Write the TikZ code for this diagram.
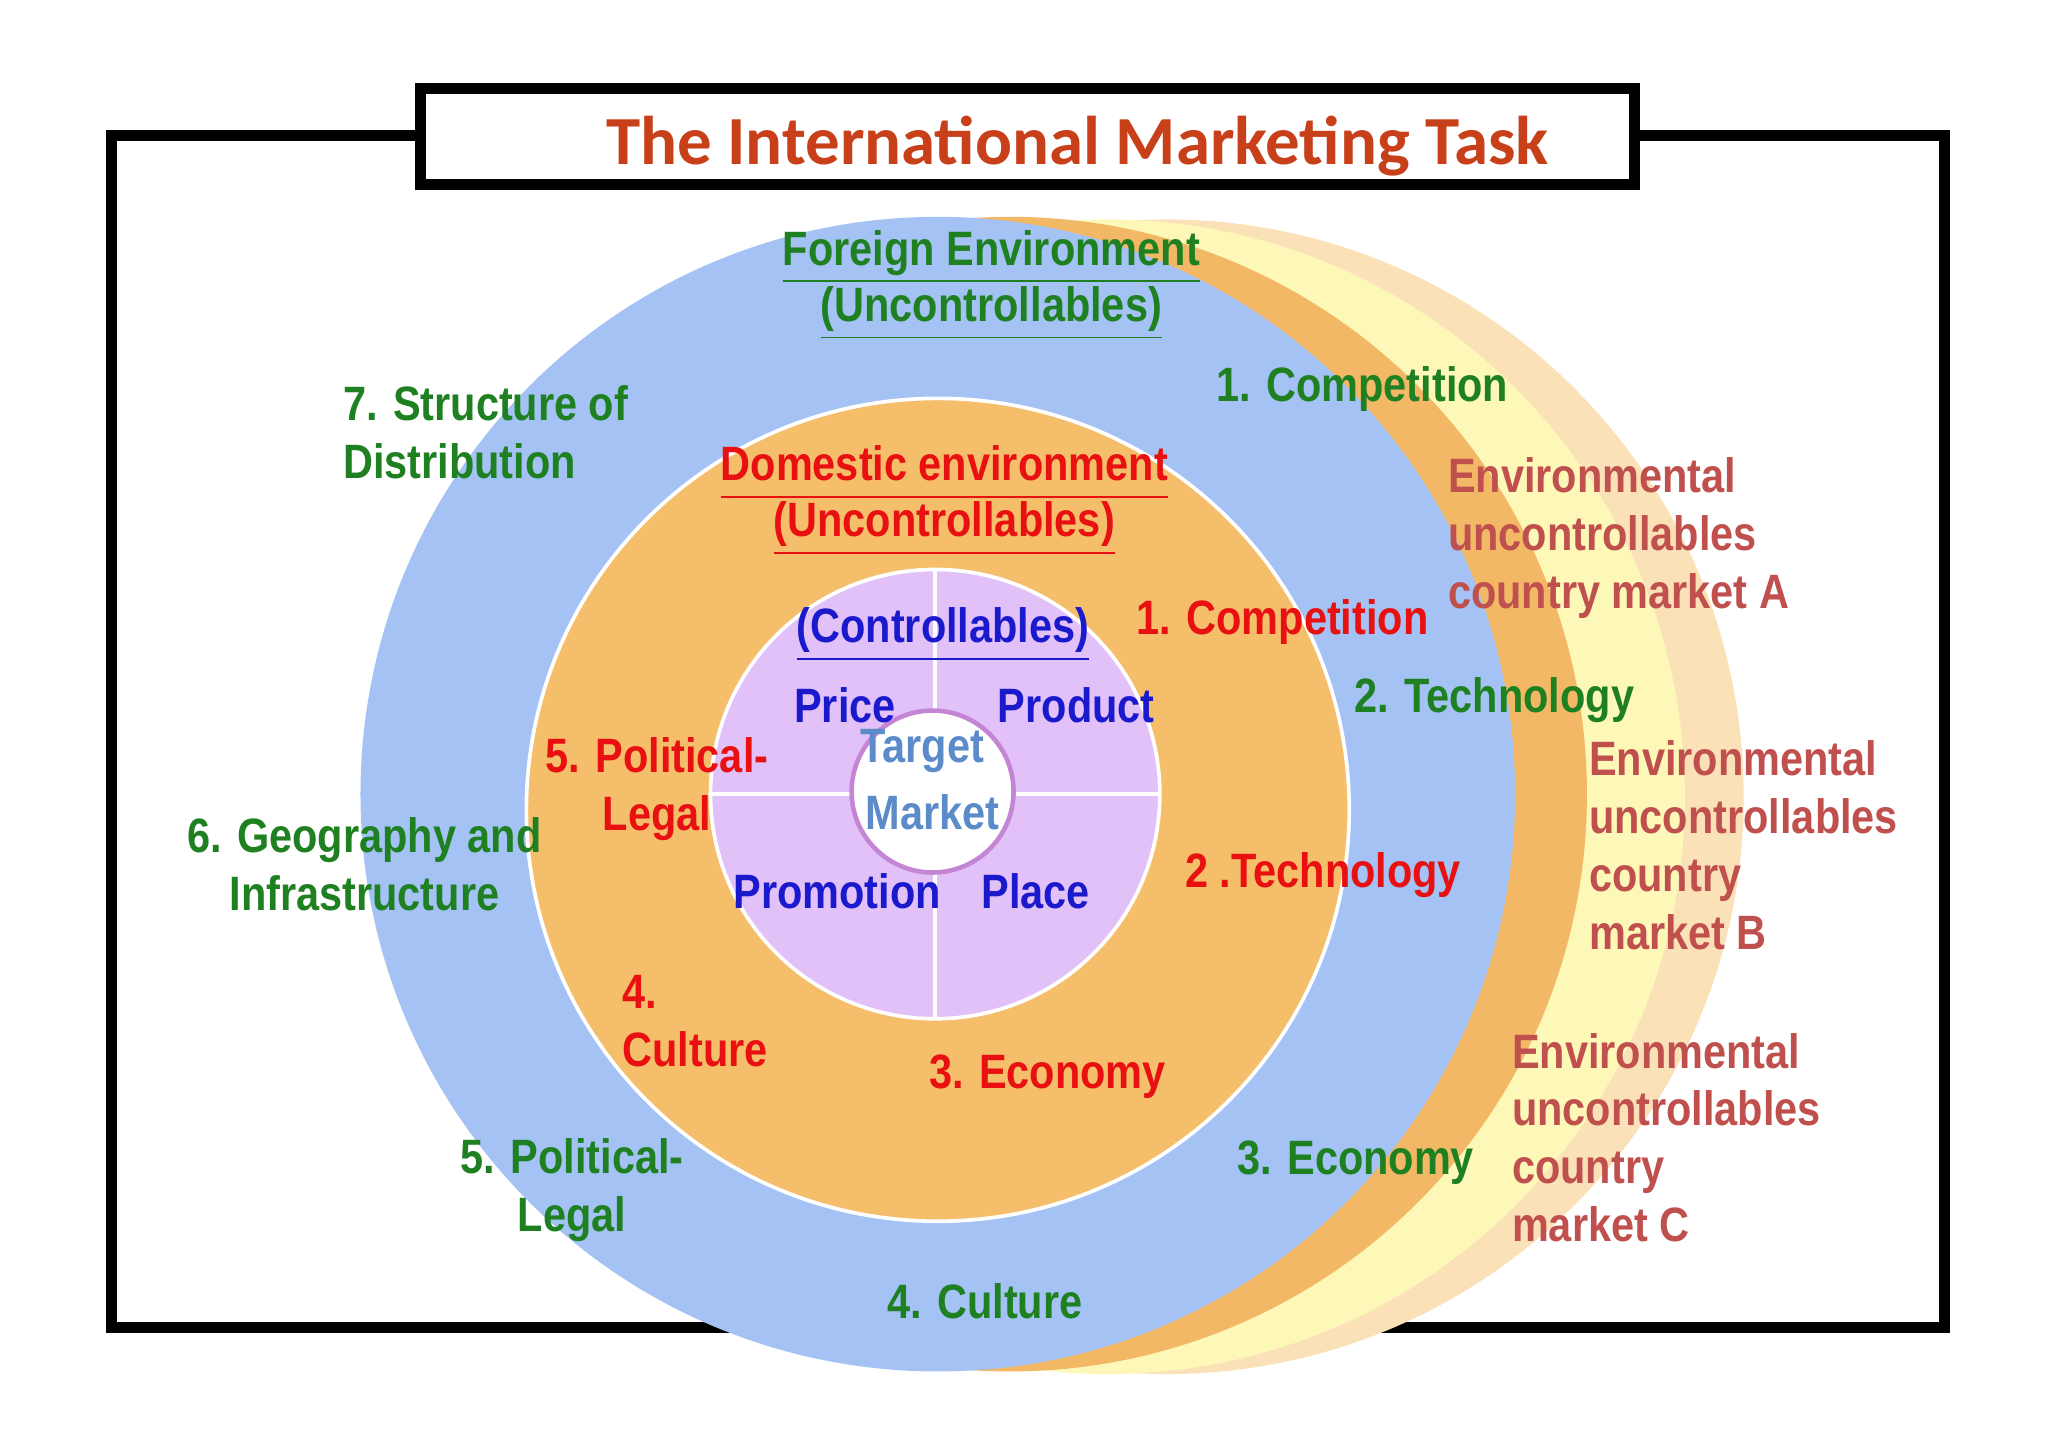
\documentclass[tikz,border=0pt]{standalone}
\usepackage{fontspec}
\setmainfont{Liberation Sans}[FakeStretch=0.86]
\newfontfamily\titlefont{Carlito}
\newcommand\myul[1]{\underline{\smash{#1}\vphantom{y}}}
\newcommand\uln[1]{$\myul{\hbox{#1}}$}
\definecolor{gr}{HTML}{1E8020}
\definecolor{rd}{HTML}{E81010}
\definecolor{bl}{HTML}{1A1ACC}
\definecolor{pk}{HTML}{C0504D}
\definecolor{tm}{HTML}{5B8BC8}
\definecolor{blueC}{HTML}{A4C2F4}
\definecolor{orC}{HTML}{F4BE6A}
\definecolor{orB}{HTML}{F2B866}
\definecolor{yeC}{HTML}{FDF7B8}
\definecolor{peC}{HTML}{FBE1B8}
\definecolor{puC}{HTML}{E2C0F8}
\definecolor{ttl}{HTML}{C8401A}
\begin{document}
\begin{tikzpicture}[x=0.01cm,y=-0.01cm,
  lab/.style={font=\bfseries\fontsize{10.5}{12.6}\selectfont,align=center,inner sep=0pt},
  labl/.style={lab,align=left,anchor=west},
  ring/.style={draw=white,line width=0.8pt}]
\useasboundingbox[fill=white] (0,0) rectangle (1568,1108);
\draw[line width=2.4pt] (85,104) rectangle (1489,1016);
\node[draw,line width=2.4pt,fill=white,minimum width=9.29cm,minimum height=0.73cm] (title) at (786.5,104.5) {};
\node[font=\titlefont\bfseries\fontsize{15}{18}\selectfont,text=ttl] (tt) at (825,112) {The International Marketing Task};
% back circles
\fill[peC] (893,610) circle (442);
\fill[yeC] (848,610) circle (442);
\fill[orB] (773,608) circle (442);
\fill[blueC] (718,608) circle (442);
\draw[ring,fill=orC] (718,620) circle (315);
\draw[ring,fill=puC] (716,608) circle (172);
\draw[white,line width=0.8pt] (716,436) -- (716,780) (544,608) -- (888,608);
\draw[draw=puC!70!violet,line width=1pt,fill=white] (714,606) circle (62);
% texts
\node[lab,text=gr] (fe) at (759,202) {\uln{Foreign Environment}};
\node[lab,text=gr] (fu) at (759,245) {\uln{(Uncontrollables)}};
\node[labl,text=gr] (s7) at (262,331) {7. Structure of\\Distribution};
\node[lab,text=gr] (c1) at (1043,298) {1. Competition};
\node[lab,text=rd] (de) at (723,367) {\uln{Domestic environment}};
\node[lab,text=rd] (du) at (723,410) {\uln{(Uncontrollables)}};
\node[labl,text=pk] (ma) at (1108,412) {Environmental\\uncontrollables\\country market A};
\node[lab,text=bl] (co) at (722,491) {\uln{(Controllables)}};
\node[lab,text=rd] (dc1) at (982,476) {1. Competition};
\node[lab,text=gr] (t2) at (1144,536) {2. Technology};
\node[lab,text=bl] (pr) at (647,540) {Price};
\node[lab,text=bl] (pd) at (824,540) {Product};
\node[lab,text=tm] (tg) at (706,575) {Target};
\node[lab,text=tm] (mk) at (714,622) {Market};
\node[lab,text=rd] (dp5) at (503,604) {5. Political-\\Legal};
\node[labl,text=pk] (mb) at (1216,647) {Environmental\\uncontrollables\\country\\market B};
\node[lab,text=gr] (g6) at (279,662) {6. Geography and\\Infrastructure};
\node[lab,text=rd] (dt2) at (1013,670) {2 .Technology};
\node[lab,text=bl] (pm) at (641,682) {Promotion};
\node[lab,text=bl] (pl) at (793,682) {Place};
\node[labl,text=rd] (dc4) at (476,782) {4.\\Culture};
\node[lab,text=rd] (de3) at (802,824) {3. Economy};
\node[labl,text=pk] (mc) at (1157,871) {Environmental\\uncontrollables\\country\\market C};
\node[lab,text=gr] (p5) at (438,911) {5. Political-\\Legal};
\node[lab,text=gr] (e3) at (1038,890) {3. Economy};
\node[lab,text=gr] (c4) at (754,996) {4. Culture};
\end{tikzpicture}
\end{document}
